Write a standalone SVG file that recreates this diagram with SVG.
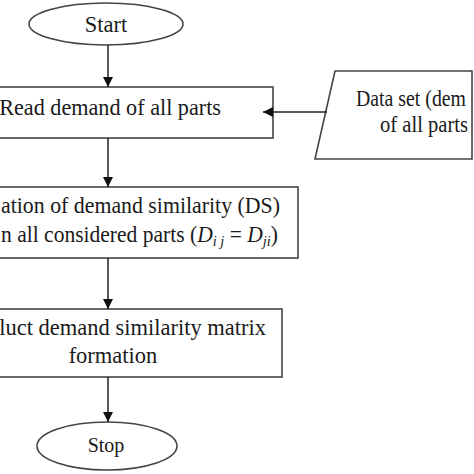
<svg xmlns="http://www.w3.org/2000/svg" width="474" height="474" viewBox="0 0 474 474">
<defs>
<marker id="ah" markerUnits="userSpaceOnUse" markerWidth="11" markerHeight="11" refX="10" refY="5" orient="auto">
<path d="M0,0 L10,5 L0,10 z" fill="#111"/>
</marker>
<style>
.shape{fill:#fff;stroke:#444;stroke-width:1.6}
.t{font-family:"Liberation Serif","Times New Roman",serif;font-size:22.5px;fill:#1a1a1a}
.i{font-style:italic}
.s{font-style:italic;font-size:15px}
.c{stroke:#222;stroke-width:1.5;fill:none;marker-end:url(#ah)}
</style>
</defs>
<rect width="474" height="474" fill="#fff"/>
<g id="start">
<ellipse class="shape" cx="106" cy="24" rx="77" ry="21"/>
<text class="t" x="106" y="32" text-anchor="middle">Start</text>
</g>
<g id="read">
<rect class="shape" x="-60" y="87" width="333" height="51"/>
<text class="t" x="221" y="115" text-anchor="end" style="font-size:22.2px">Read demand of all parts</text>
</g>
<g id="data">
<polygon class="shape" points="335,71 472,71 472,159 315,159"/>
<text class="t" x="356" y="106" textLength="110" lengthAdjust="spacingAndGlyphs">Data set (dem</text>
<text class="t" x="380" y="132" textLength="88" lengthAdjust="spacingAndGlyphs">of all parts</text>
</g>
<g id="calc">
<rect class="shape" x="-80" y="187" width="378" height="71"/>
<text class="t" x="1" y="213" textLength="279" lengthAdjust="spacingAndGlyphs">ation of demand similarity (DS)</text>
<text class="t" x="1" y="242" textLength="277" lengthAdjust="spacingAndGlyphs">n all considered parts (<tspan class="i">D</tspan><tspan class="s" dy="4">i j</tspan><tspan dy="-4"> = </tspan><tspan class="i">D</tspan><tspan class="s" dy="4">ji</tspan><tspan dy="-4">)</tspan></text>
</g>
<g id="matrix">
<rect class="shape" x="-60" y="309" width="342" height="68"/>
<text class="t" x="266" y="335" text-anchor="end">luct demand similarity matrix</text>
<text class="t" x="113" y="363" text-anchor="middle">formation</text>
</g>
<g id="stop">
<ellipse class="shape" cx="107" cy="446" rx="70" ry="24"/>
<text class="t" x="106" y="452" text-anchor="middle" style="font-size:20px">Stop</text>
</g>
<g id="connectors">
<line class="c" x1="108" y1="45" x2="108" y2="87"/>
<line class="c" x1="108" y1="138" x2="108" y2="187"/>
<line class="c" x1="108" y1="258" x2="108" y2="309"/>
<line class="c" x1="108" y1="377" x2="108" y2="422"/>
<line class="c" x1="327" y1="112" x2="263" y2="112"/>
</g>
</svg>
